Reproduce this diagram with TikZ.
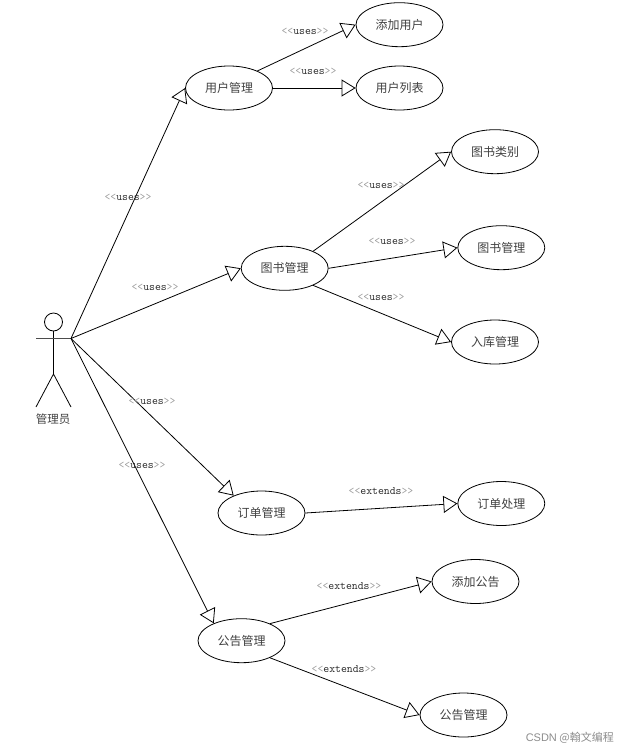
\documentclass[tikz,border=0pt]{standalone}
\usepackage{fontspec}
\usetikzlibrary{arrows.meta,shapes.geometric}
\setmainfont{Noto Sans CJK SC}
\newfontfamily\latf{Liberation Sans}
\newcommand{\ster}[1]{{\ttfamily\fontsize{11.4}{12}\selectfont\textcolor{black!40}{<<}#1\textcolor{black!40}{>>}}}
\tikzset{
 x=1pt,y=-1pt,
 usecase/.style={draw=black,ellipse,minimum width=87pt,minimum height=44pt,inner sep=0pt,line width=0.8pt,font=\fontsize{12}{14}\selectfont,text=black!75},
 assoc/.style={draw=black,line width=0.8pt,-{Triangle[open,length=14pt,width=17pt,line width=0.8pt]}},
 limb/.style={draw=black,line width=0.8pt},
 ster/.style={inner sep=0pt,text=black!85},
}
\begin{document}
\begin{tikzpicture}
\useasboundingbox (0,0) rectangle (620,750);
\node[usecase] (addu) at (399.5,24.7) {添加用户};
\node[usecase] (listu) at (399.5,88) {用户列表};
\node[usecase] (um) at (229,88) {用户管理};
\node[usecase] (bm) at (284.7,268.3) {图书管理};
\node[usecase] (bc) at (495,151.7) {图书类别};
\node[usecase] (bm2) at (501.3,247.7) {图书管理};
\node[usecase] (bin) at (495,342) {入库管理};
\node[usecase] (om) at (261.5,513) {订单管理};
\node[usecase] (op) at (501.3,503.5) {订单处理};
\node[usecase] (nm) at (241.5,640.7) {公告管理};
\node[usecase] (addn) at (475.5,581.5) {添加公告};
\node[usecase] (nm2) at (463.5,715) {公告管理};
% actor
\node[circle,draw=black,line width=0.8pt,minimum size=18pt,inner sep=0pt] (head) at (53.5,322) {};
\coordinate (hip) at (53.5,374);
\coordinate (handl) at (36,338.5);
\coordinate (hand) at (71,338.5);
\coordinate (footl) at (36,407);
\coordinate (footr) at (71,407);
\draw[limb] (head) -- (hip);
\draw[limb,draw=black!70,line width=1pt] (handl) -- (hand);
\draw[limb] (footl) -- (hip) -- (footr);
\node[font=\fontsize{11.5}{13}\selectfont,text=black!75,inner sep=0pt] (actorlabel) at (53,419) {管理员};
% connectors
\draw[assoc] (hand) -- (um.west);
\draw[assoc] (hand) -- (bm.west);
\draw[assoc] (hand) -- (om.148);
\draw[assoc] (hand) -- (nm.148);
\draw[assoc] (um.31) -- (addu.west);
\draw[assoc] (um.east) -- (listu.west);
\draw[assoc] (bm.31) -- (bc.west);
\draw[assoc] (bm.east) -- (bm2.west);
\draw[assoc] (bm.-31) -- (bin.west);
\draw[assoc] (om.east) -- (op.west);
\draw[assoc] (nm.31) -- (addn.west);
\draw[assoc] (nm.-31) -- (nm2.west);
% labels
\node[ster] (l1) at (128,197) {\ster{uses}};
\node[ster] (l2) at (155,287) {\ster{uses}};
\node[ster] (l3) at (152,401) {\ster{uses}};
\node[ster] (l4) at (142,465) {\ster{uses}};
\node[ster] (l5) at (305,31) {\ster{uses}};
\node[ster] (l6) at (313,71) {\ster{uses}};
\node[ster] (l7) at (381,185) {\ster{uses}};
\node[ster] (l8) at (392,241) {\ster{uses}};
\node[ster] (l9) at (381,297) {\ster{uses}};
\node[ster] (l10) at (381,491) {\ster{extends}};
\node[ster] (l11) at (349,586) {\ster{extends}};
\node[ster] (l12) at (344,669) {\ster{extends}};
\node[inner sep=0pt,anchor=east,text=black!45,font=\fontsize{11}{12}\selectfont] (wm) at (614,738) {{\latf CSDN} @翰文编程};
\end{tikzpicture}
\end{document}
